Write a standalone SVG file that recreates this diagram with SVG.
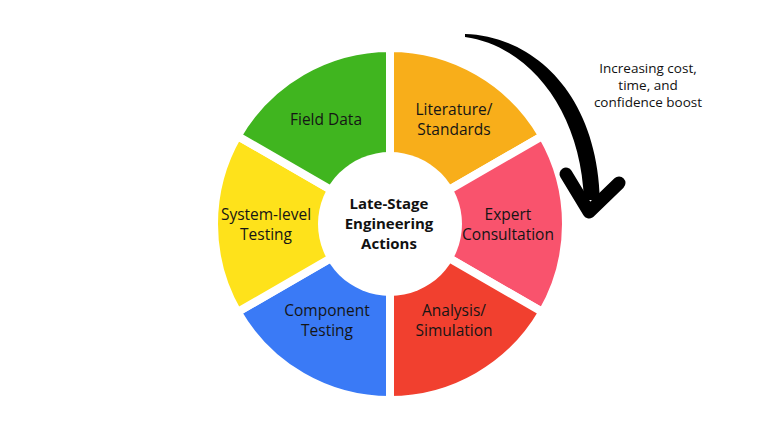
<svg xmlns="http://www.w3.org/2000/svg" width="780" height="439" viewBox="0 0 780 439">
<style>
.seg{stroke:#fff;stroke-width:8;stroke-linejoin:miter}
.lbl{font-family:"Open Sans","Noto Sans",sans-serif;font-size:15.5px;fill:#151515;text-anchor:middle}
.ctr{font-family:"Open Sans","Noto Sans",sans-serif;font-size:15px;font-weight:bold;fill:#111;text-anchor:middle}
.note{font-family:"Open Sans","Noto Sans",sans-serif;font-size:13.5px;fill:#111;text-anchor:middle}
</style>
<rect width="780" height="439" fill="#fff"/>
<g id="literature">
<path class="seg" d="M390,224 L390,48 A176,176 0 0 1 542.42,136 Z" fill="#f8ae1a"/>
<text class="lbl" x="454" y="115">Literature/</text>
<text class="lbl" x="454" y="135">Standards</text>
</g>
<g id="expert">
<path class="seg" d="M390,224 L542.42,136 A176,176 0 0 1 542.42,312 Z" fill="#f9536d"/>
<text class="lbl" x="508" y="220">Expert</text>
<text class="lbl" x="508" y="240">Consultation</text>
</g>
<g id="analysis">
<path class="seg" d="M390,224 L542.42,312 A176,176 0 0 1 390,400 Z" fill="#f1402f"/>
<text class="lbl" x="454" y="316">Analysis/</text>
<text class="lbl" x="454" y="336">Simulation</text>
</g>
<g id="component">
<path class="seg" d="M390,224 L390,400 A176,176 0 0 1 237.58,312 Z" fill="#3a7af6"/>
<text class="lbl" x="327" y="316">Component</text>
<text class="lbl" x="327" y="336">Testing</text>
</g>
<g id="system">
<path class="seg" d="M390,224 L237.58,312 A176,176 0 0 1 237.58,136 Z" fill="#fee21b"/>
<text class="lbl" x="266" y="220">System-level</text>
<text class="lbl" x="266" y="240">Testing</text>
</g>
<g id="field">
<path class="seg" d="M390,224 L237.58,136 A176,176 0 0 1 390,48 Z" fill="#40b51f"/>
<text class="lbl" x="326" y="125">Field Data</text>
</g>
<g id="center">
<circle cx="390" cy="224" r="72" fill="#fff"/>
<text class="ctr" x="389" y="209">Late-Stage</text>
<text class="ctr" x="389" y="229">Engineering</text>
<text class="ctr" x="389" y="249">Actions</text>
</g>
<g id="connectors">
<path d="M465,34 C532,36 597,92 600,200 L584,200 C581,112 530,46 465,37 Z" fill="#000"/>
<polyline points="566,174 589,212 619,183" fill="none" stroke="#000" stroke-width="13" stroke-linecap="round" stroke-linejoin="round"/>
</g>
<g id="note">
<text class="note" x="648" y="73">Increasing cost,</text>
<text class="note" x="648" y="90">time, and</text>
<text class="note" x="648" y="107">confidence boost</text>
</g>
</svg>
